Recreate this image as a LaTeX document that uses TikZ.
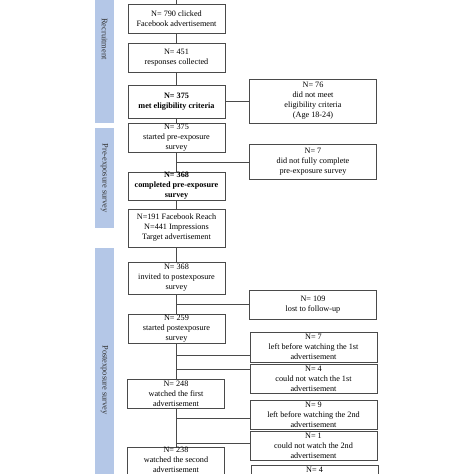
\documentclass[tikz,border=0pt]{standalone}
\usepackage{fontspec}
\setmainfont{Liberation Serif}
\definecolor{barblue}{HTML}{B4C7E7}
\definecolor{linegray}{HTML}{4A4A4A}
\begin{document}
\begin{tikzpicture}[x=1pt,y=-1pt,
  box/.style={draw=linegray, line width=0.75pt, fill=white, inner sep=0pt},
  mainbox/.style={box, minimum width=97pt},
  sidebox/.style={box, minimum width=127pt},
  txt/.style={align=center, font=\fontsize{8.2}{10}\selectfont, inner sep=0pt, text=black},
  boldtxt/.style={txt, font=\fontsize{8.2}{10}\selectfont\bfseries},
  conn/.style={draw=linegray, line width=0.75pt},
  bar/.style={fill=barblue, draw=none, inner sep=0pt, minimum width=19pt},
  bartxt/.style={rotate=-90, font=\fontsize{8.4}{10}\selectfont, text=black!80, inner sep=0pt}]
\useasboundingbox (0,0) rectangle (474,474);
\clip (0,0) rectangle (474,474);
\fill[white] (0,0) rectangle (474,474);

% side bars
\node[bar, minimum height=168pt] (bar1) at (104.5,39) {};
\node[bartxt] (bt1) at (bar1) {Recruitment};
\node[bar, minimum height=100pt] (bar2) at (104.5,178) {};
\node[bartxt] (bt2) at (bar2) {Pre-exposure survey};
\node[bar, minimum height=264pt] (bar3) at (104.5,380) {};
\node[bartxt] (bt3) at (bar3) {Postexposure survey};

% main column boxes
\node[mainbox, minimum height=29pt] (b1) at (176.5,18.5) {};
\node[mainbox, minimum height=29pt] (b2) at (176.5,57.5) {};
\node[mainbox, minimum height=33pt] (b3) at (176.5,101.5) {};
\node[mainbox, minimum height=29pt] (b4) at (176.5,137.5) {};
\node[mainbox, minimum height=28pt] (b5) at (176.5,186) {};
\node[mainbox, minimum height=38pt] (b6) at (176.5,228) {};
\node[mainbox, minimum height=32pt] (b7) at (176.5,278) {};
\node[mainbox, minimum height=29pt] (b8) at (176.5,328.5) {};
\node[mainbox, minimum height=29pt] (b9) at (176,393.5) {};
\node[mainbox, minimum height=29pt] (b10) at (176,461.5) {};

% side boxes
\node[sidebox, minimum height=44pt] (r1) at (313,101) {};
\node[sidebox, minimum height=35pt] (r2) at (313,161.5) {};
\node[sidebox, minimum height=29pt] (r3) at (313,304.5) {};
\node[sidebox, minimum height=30pt] (r4) at (313.5,347) {};
\node[sidebox, minimum height=29pt] (r5) at (313.5,378.5) {};
\node[sidebox, minimum height=29pt] (r6) at (313.5,414.5) {};
\node[sidebox, minimum height=29pt] (r7) at (313.5,445.5) {};
\node[sidebox, minimum height=30pt] (r8) at (314.5,480) {};

% junction coordinates on the main line
\coordinate (top) at (176.5,0);
\coordinate (j2) at (176.5,162);
\coordinate (j3) at (176.5,304);
\coordinate (j4) at (176.5,355);
\coordinate (j5) at (176.5,369);
\coordinate (j6) at (176.5,418);
\coordinate (j7) at (176.5,443);

% connectors
\draw[conn] (top) -- (b1.north);
\draw[conn] (b1.south) -- (b2.north);
\draw[conn] (b2.south) -- (b3.north);
\draw[conn] (b3.south) -- (b4.north);
\draw[conn] (b4.south) -- (b4.south |- b5.north);
\draw[conn] (b5.south) -- (b5.south |- b6.north);
\draw[conn] (b6.south) -- (b6.south |- b7.north);
\draw[conn] (b7.south) -- (b8.north);
\draw[conn] (b8.south) -- (b8.south |- b9.north);
\draw[conn] (b8.south |- b9.south) -- (b8.south |- b10.north);
\draw[conn] (b3.east) -- (b3.east -| r1.west);
\draw[conn] (j2) -- (j2 -| r2.west);
\draw[conn] (j3) -- (j3 -| r3.west);
\draw[conn] (j4) -- (j4 -| r4.west);
\draw[conn] (j5) -- (j5 -| r5.west);
\draw[conn] (j6) -- (j6 -| r6.west);
\draw[conn] (j7) -- (j7 -| r7.west);

% texts
\node[txt] (t1) at (b1) {N= 790 clicked\\Facebook advertisement};
\node[txt] (t2) at (b2) {N= 451\\responses collected};
\node[boldtxt] (t3) at (b3) {N= 375\\met eligibility criteria};
\node[txt] (t4) at (b4) {N= 375\\started pre-exposure\\survey};
\node[boldtxt] (t5) at (b5) {N= 368\\completed pre-exposure\\survey};
\node[txt] (t6) at (b6) {N=191 Facebook Reach\\N=441 Impressions\\Target advertisement};
\node[txt] (t7) at (b7) {N= 368\\invited to postexposure\\survey};
\node[txt] (t8) at (b8) {N= 259\\started postexposure\\survey};
\node[txt] (t9) at (b9) {N= 248\\watched the first\\advertisement};
\node[txt] (t10) at ([yshift=1.5pt]b10.center) {N= 238\\watched the second\\advertisement};

\node[txt] (s1) at (r1) {N= 76\\did not meet\\eligibility criteria\\(Age 18-24)};
\node[txt] (s2) at (r2) {N= 7\\did not fully complete\\pre-exposure survey};
\node[txt] (s3) at (r3) {N= 109\\lost to follow-up};
\node[txt] (s4) at (r4) {N= 7\\left before watching the 1st\\advertisement};
\node[txt] (s5) at (r5) {N= 4\\could not watch the 1st\\advertisement};
\node[txt] (s6) at (r6) {N= 9\\left before watching the 2nd\\advertisement};
\node[txt] (s7) at (r7) {N= 1\\could not watch the 2nd\\advertisement};
\node[txt] (s8) at (314.5,469.5) {N= 4};
\end{tikzpicture}
\end{document}
